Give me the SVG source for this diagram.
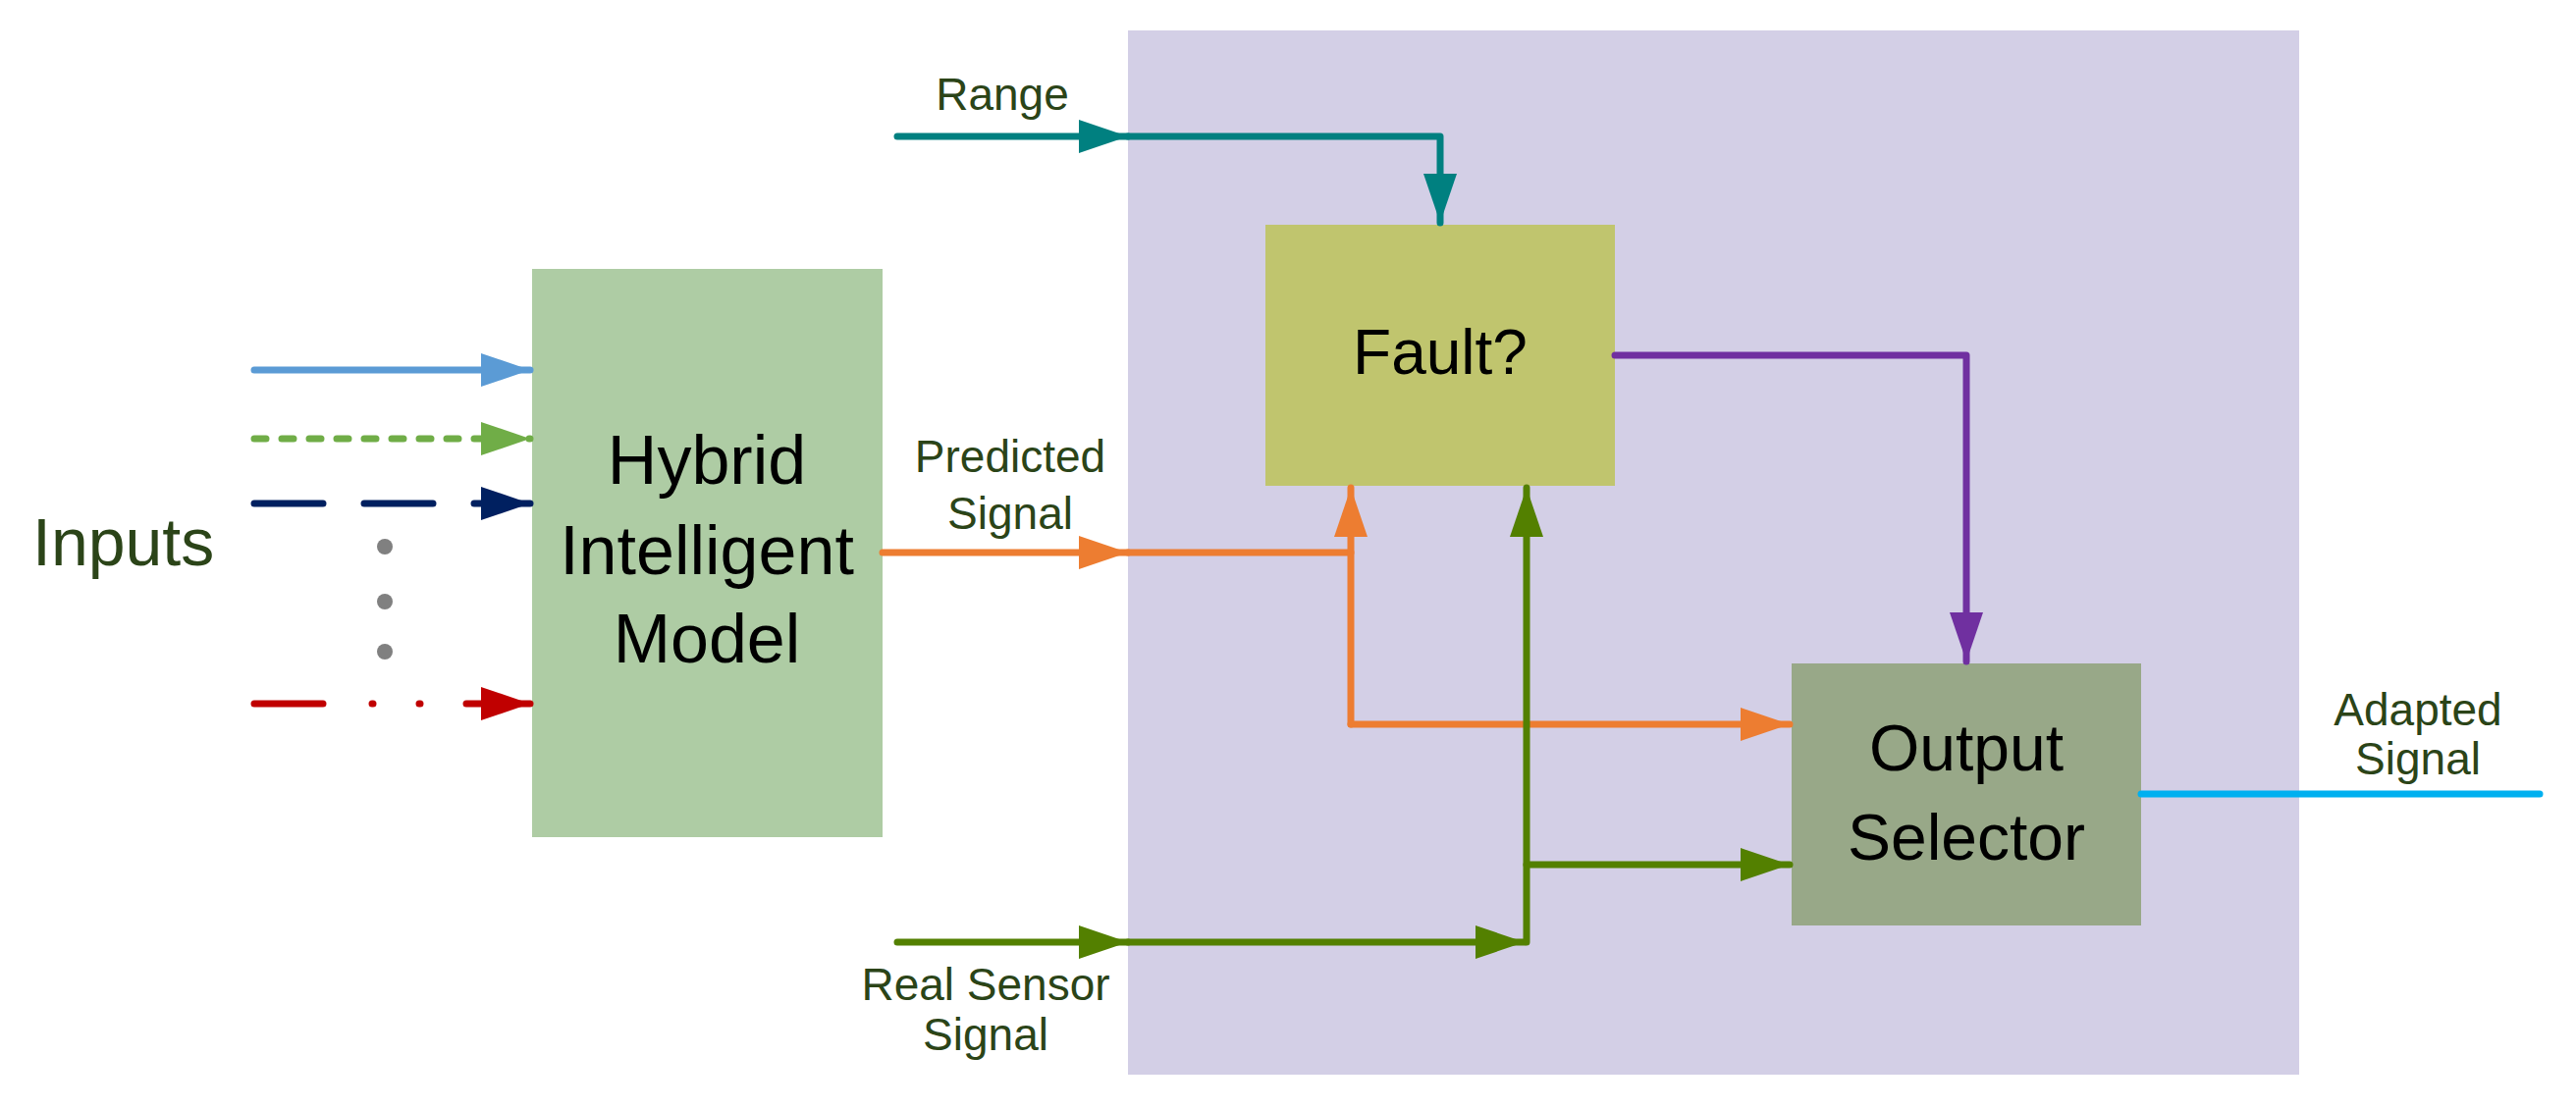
<svg xmlns="http://www.w3.org/2000/svg" width="2624" height="1130" viewBox="0 0 2624 1130">
<style>
.lbl{font-family:"Liberation Sans",Arial,sans-serif;fill:#2b4418;text-anchor:middle;font-size:46px}
.box{font-family:"Liberation Sans",Arial,sans-serif;fill:#000;text-anchor:middle;font-size:70px}
.ln{fill:none;stroke-width:7;stroke-linecap:round;stroke-linejoin:round}
</style>
<defs>
<marker id="aBlue" markerUnits="userSpaceOnUse" markerWidth="52" markerHeight="36" refX="50" refY="17" orient="auto"><path d="M0,0 L50,17 L0,34 z" fill="#5b9bd5"/></marker>
<marker id="aLGreen" markerUnits="userSpaceOnUse" markerWidth="52" markerHeight="36" refX="50" refY="17" orient="auto"><path d="M0,0 L50,17 L0,34 z" fill="#70ad47"/></marker>
<marker id="aNavy" markerUnits="userSpaceOnUse" markerWidth="52" markerHeight="36" refX="50" refY="17" orient="auto"><path d="M0,0 L50,17 L0,34 z" fill="#002060"/></marker>
<marker id="aRed" markerUnits="userSpaceOnUse" markerWidth="52" markerHeight="36" refX="50" refY="17" orient="auto"><path d="M0,0 L50,17 L0,34 z" fill="#c00000"/></marker>
<marker id="aTeal" markerUnits="userSpaceOnUse" markerWidth="52" markerHeight="36" refX="50" refY="17" orient="auto"><path d="M0,0 L50,17 L0,34 z" fill="#008080"/></marker>
<marker id="aOrange" markerUnits="userSpaceOnUse" markerWidth="52" markerHeight="36" refX="50" refY="17" orient="auto"><path d="M0,0 L50,17 L0,34 z" fill="#ed7d31"/></marker>
<marker id="aGreen" markerUnits="userSpaceOnUse" markerWidth="52" markerHeight="36" refX="50" refY="17" orient="auto"><path d="M0,0 L50,17 L0,34 z" fill="#538000"/></marker>
<marker id="aPurple" markerUnits="userSpaceOnUse" markerWidth="52" markerHeight="36" refX="50" refY="17" orient="auto"><path d="M0,0 L50,17 L0,34 z" fill="#7030a0"/></marker>
</defs>
<rect id="background" x="1149" y="31" width="1193" height="1064" fill="#d3cfe6"/>
<g id="hybrid"><rect x="542" y="274" width="357" height="579" fill="#aecca4"/>
<text class="box" x="720" y="493">Hybrid</text><text class="box" x="720" y="585">Intelligent</text><text class="box" x="720" y="675">Model</text></g>
<g id="fault"><rect x="1289" y="229" width="356" height="266" fill="#c0c56e"/>
<text class="box" x="1467" y="381" style="font-size:64px">Fault?</text></g>
<g id="output"><rect x="1825" y="676" width="356" height="267" fill="#98a888"/>
<text class="box" x="2003" y="785" style="font-size:66px">Output</text><text class="box" x="2003" y="876" style="font-size:66px">Selector</text></g>
<g id="labels">
<text class="lbl" x="33" y="576" style="text-anchor:start;font-size:68px">Inputs</text>
<text class="lbl" x="1021" y="112">Range</text>
<text class="lbl" x="1029" y="481">Predicted</text><text class="lbl" x="1029" y="539">Signal</text>
<text class="lbl" x="1004" y="1019">Real Sensor</text><text class="lbl" x="1004" y="1070">Signal</text>
<text class="lbl" x="2463" y="739">Adapted</text><text class="lbl" x="2463" y="789">Signal</text>
</g>
<g id="connectors">
<path class="ln" d="M259,377 H540" stroke="#5b9bd5" marker-end="url(#aBlue)"/>
<path class="ln" d="M259,447 H540" stroke="#70ad47" stroke-dasharray="12 16" marker-end="url(#aLGreen)"/>
<path class="ln" d="M259,513 H540" stroke="#002060" stroke-dasharray="70 42" marker-end="url(#aNavy)"/>
<path class="ln" d="M259,717 H540" stroke="#c00000" stroke-dasharray="70 50 1 47 1 47" marker-end="url(#aRed)"/>
<g fill="#808080"><circle cx="392" cy="557" r="8"/><circle cx="392" cy="613" r="8"/><circle cx="392" cy="664" r="8"/></g>
<path class="ln" d="M914,139 H1149" stroke="#008080" marker-end="url(#aTeal)"/>
<path class="ln" d="M1149,139 H1467 V227" stroke="#008080" marker-end="url(#aTeal)"/>
<path class="ln" d="M899,563 H1149" stroke="#ed7d31" marker-end="url(#aOrange)"/>
<path class="ln" d="M1149,563 H1376" stroke="#ed7d31"/>
<path class="ln" d="M1376,738 V497" stroke="#ed7d31" marker-end="url(#aOrange)"/>
<path class="ln" d="M1376,738 H1823" stroke="#ed7d31" marker-end="url(#aOrange)"/>
<path class="ln" d="M914,960 H1149" stroke="#538000" marker-end="url(#aGreen)"/>
<path class="ln" d="M1149,960 H1553" stroke="#538000" marker-end="url(#aGreen)"/>
<path class="ln" d="M1555,960 V497" stroke="#538000" marker-end="url(#aGreen)"/>
<path class="ln" d="M1555,881 H1823" stroke="#538000" marker-end="url(#aGreen)"/>
<path class="ln" d="M1645,362 H2003 V674" stroke="#7030a0" marker-end="url(#aPurple)"/>
<path class="ln" d="M2181,809 H2587" stroke="#00b0f0"/>
</g>
</svg>
